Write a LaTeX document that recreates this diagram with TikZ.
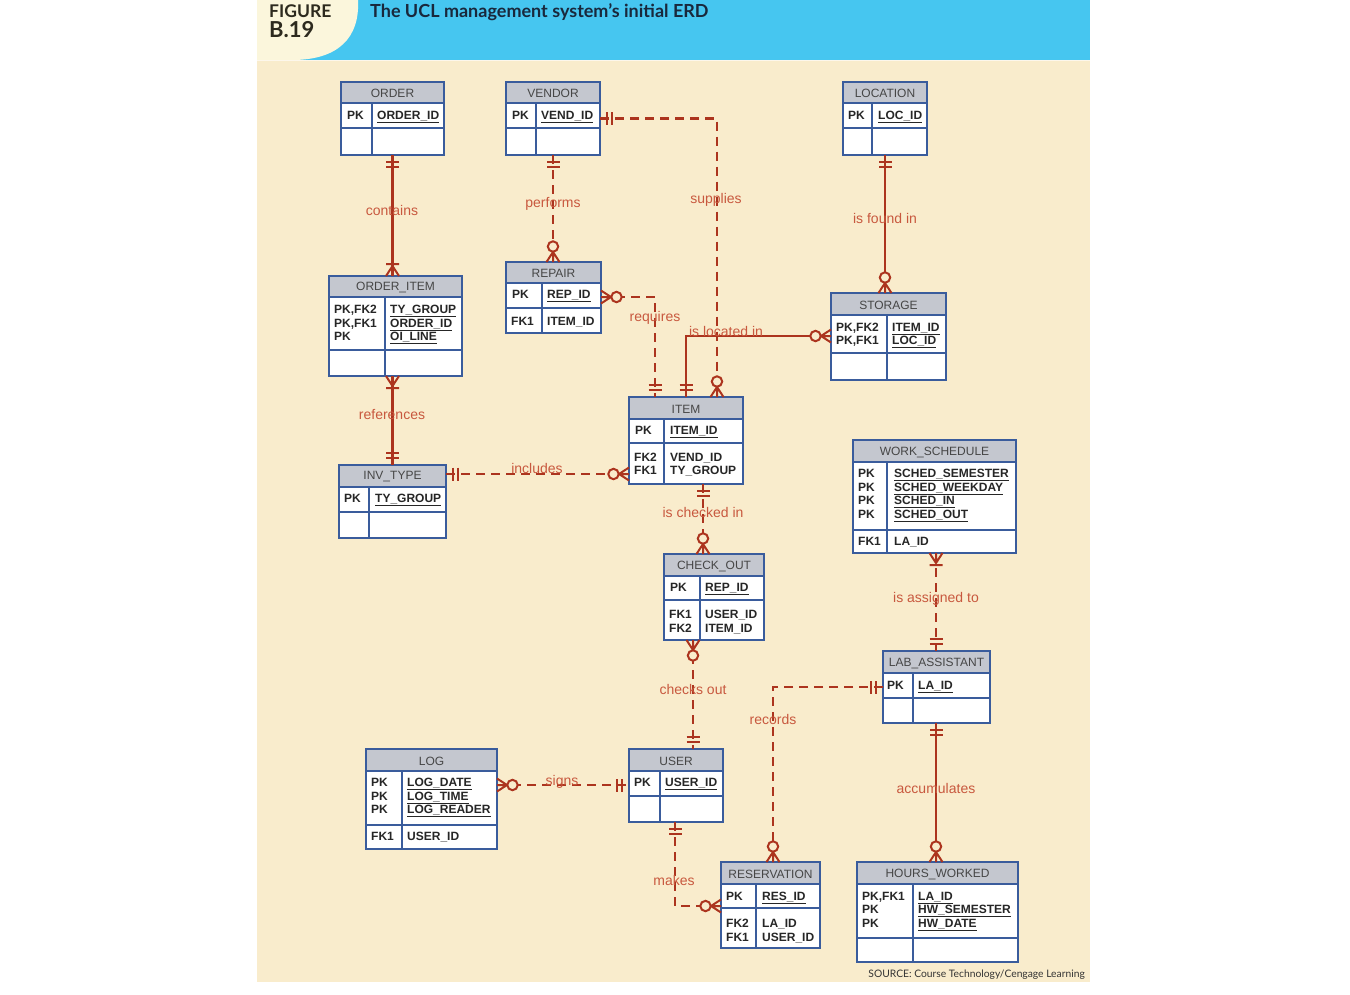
\documentclass[tikz,border=0pt]{standalone}
\usepackage{fontspec}
\setmainfont{Liberation Sans}
\newfontfamily\titlefont{Lato}
\usetikzlibrary{fit}

\definecolor{panelcream}{RGB}{249,236,204}
\definecolor{headblue}{RGB}{70,198,240}
\definecolor{figcream}{RGB}{251,246,220}
\definecolor{hdrgray}{RGB}{196,199,207}
\definecolor{entblue}{RGB}{58,92,156}
\definecolor{relred}{RGB}{172,52,30}
\definecolor{lblred}{RGB}{200,88,62}
\definecolor{hdrtxt}{RGB}{70,70,70}
\definecolor{titletxt}{RGB}{25,40,60}
\definecolor{figtxt}{RGB}{45,42,30}

\tikzset{
  entline/.style={draw=entblue, line width=1.4pt},
  hdrtext/.style={font=\fontsize{12}{14}\selectfont, text=hdrtxt, inner sep=0pt},
  celltext/.style={font=\fontsize{12}{14}\selectfont\bfseries, text=black!85, inner sep=0pt, anchor=base west},
  rel/.style={draw=relred, line width=2.5pt},
  reldash/.style={rel, dash pattern=on 9pt off 6pt},
  mk/.style={draw=relred, line width=2pt},
  lbl/.style={font=\fontsize{14}{16}\selectfont, text=lblred, inner sep=0pt, anchor=base},
  one/.pic={\draw[mk] (7,-6.5) -- (7,6.5) (12,-6.5) -- (12,6.5);},
  zmany/.pic={\draw[mk] (0,-6.5) -- (10,0) -- (0,6.5) (0,0) -- (10,0);
               \draw[mk, fill=panelcream] (15.5,0) circle (5.2);},
  omany/.pic={\draw[mk] (0,-6.5) -- (10,0) -- (0,6.5) (0,0) -- (10,0) (12,-6.5) -- (12,6.5);},
}

\newcounter{tcell}
\newcommand\ct[3]{\stepcounter{tcell}\node[celltext, name=c\arabic{tcell}] at (#1,#2) {#3};}
\newcommand\ul[1]{\underline{#1}}
\newcommand\entity[9]{%
  \fill[white] (#2,#3) rectangle (#4,#5);
  \fill[hdrgray] (#2,#3) rectangle (#4,#6);
  \draw[entline] (#2,#6) -- (#4,#6);
  \draw[entline] (#2,#8) -- (#4,#8);
  \draw[entline] (#7,#6) -- (#7,#5);
  \node[fit={(#2,#3)(#4,#5)}, inner sep=0pt, outer sep=0pt, draw=entblue, line width=2pt] (#1) {};
  \node[hdrtext, name=#1-t] at ({(#2+#4)/2},{(#3+#6)/2+1}) {#9};
}

\begin{document}
\begin{tikzpicture}[x=1pt, y=-1pt]
\useasboundingbox (0,0) rectangle (1350,994);
\fill[white] (0,0) rectangle (1350,994);

% header and panel
\fill[headblue] (257,0) rectangle (1090,60);
\fill[figcream] (257,0) -- (358,0) .. controls (360,38) and (338,60) .. (292,60) -- (257,60) -- cycle;
\fill[panelcream] (257,61) rectangle (1090,982);
\draw[white!60!panelcream, line width=1pt] (257,60.5) -- (1090,60.5);

\node[anchor=base west, inner sep=0pt, font=\titlefont\bfseries\fontsize{17.5}{20}\selectfont, text=figtxt] (figlbl) at (269,17) {FIGURE};
\node[anchor=base west, inner sep=0pt, font=\titlefont\bfseries\fontsize{22}{24}\selectfont, text=figtxt] (fignum) at (269,37) {B.19};
\node[anchor=base west, inner sep=0pt, font=\titlefont\bfseries\fontsize{18}{21}\selectfont, text=titletxt] (title) at (370,17) {The UCL management system’s initial ERD};
\node[anchor=base east, inner sep=0pt, font=\titlefont\fontsize{10.3}{12}\selectfont, text=black!80] (src) at (1085,977) {SOURCE: Course Technology/Cengage Learning};

% entities
\entity{order}{341}{82}{444}{155}{103}{372}{128}{ORDER}
\entity{vendor}{506}{82}{600}{155}{103}{536}{128}{VENDOR}
\entity{location}{843}{82}{927}{155}{103}{872}{128}{LOCATION}
\entity{repair}{506}{262}{601}{333}{283}{542}{308}{REPAIR}
\entity{oitem}{329}{276}{462}{376}{297}{385}{350}{ORDER\_ITEM}
\entity{storage}{831}{293}{946}{380}{315}{887}{353}{STORAGE}
\entity{item}{629}{397}{743}{484}{419}{664}{443}{ITEM}
\entity{invtype}{339}{465}{446}{538}{487}{369}{512}{INV\_TYPE}
\entity{ws}{853}{440}{1016}{553}{462}{887}{530}{WORK\_SCHEDULE}
\entity{checkout}{664}{554}{764}{640}{576}{700}{600}{CHECK\_OUT}
\entity{la}{883}{651}{990}{723}{673}{913}{698}{LAB\_ASSISTANT}
\entity{log}{366}{749}{497}{849}{771}{402}{825}{LOG}
\entity{user}{629}{749}{723}{822}{771}{660}{796}{USER}
\entity{res}{721}{862}{820}{948}{884}{756}{908}{RESERVATION}
\entity{hw}{857}{862}{1018}{962}{884}{913}{938}{HOURS\_WORKED}

% cell texts
\ct{347}{119}{PK} \ct{377}{119}{\ul{ORDER\_ID}}
\ct{512}{119}{PK} \ct{541}{119}{\ul{VEND\_ID}}
\ct{848}{119}{PK} \ct{878}{119}{\ul{LOC\_ID}}
\ct{512}{298}{PK} \ct{547}{298}{\ul{REP\_ID}}
\ct{511}{325}{FK1} \ct{547}{325}{ITEM\_ID}
\ct{334}{313}{PK,FK2} \ct{390}{313}{\ul{TY\_GROUP}}
\ct{334}{327}{PK,FK1} \ct{390}{327}{\ul{ORDER\_ID}}
\ct{334}{340}{PK} \ct{390}{340}{\ul{OI\_LINE}}
\ct{836}{331}{PK,FK2} \ct{892}{331}{\ul{ITEM\_ID}}
\ct{836}{344}{PK,FK1} \ct{892}{344}{\ul{LOC\_ID}}
\ct{635}{434}{PK} \ct{670}{434}{\ul{ITEM\_ID}}
\ct{634}{461}{FK2} \ct{670}{461}{VEND\_ID}
\ct{634}{474}{FK1} \ct{670}{474}{TY\_GROUP}
\ct{344}{502}{PK} \ct{375}{502}{\ul{TY\_GROUP}}
\ct{858}{477}{PK} \ct{894}{477}{\ul{SCHED\_SEMESTER}}
\ct{858}{491}{PK} \ct{894}{491}{\ul{SCHED\_WEEKDAY}}
\ct{858}{504}{PK} \ct{894}{504}{\ul{SCHED\_IN}}
\ct{858}{518}{PK} \ct{894}{518}{\ul{SCHED\_OUT}}
\ct{858}{545}{FK1} \ct{894}{545}{LA\_ID}
\ct{670}{591}{PK} \ct{705}{591}{\ul{REP\_ID}}
\ct{669}{618}{FK1} \ct{705}{618}{USER\_ID}
\ct{669}{632}{FK2} \ct{705}{632}{ITEM\_ID}
\ct{887}{689}{PK} \ct{918}{689}{\ul{LA\_ID}}
\ct{371}{786}{PK} \ct{407}{786}{\ul{LOG\_DATE}}
\ct{371}{800}{PK} \ct{407}{800}{\ul{LOG\_TIME}}
\ct{371}{813}{PK} \ct{407}{813}{\ul{LOG\_READER}}
\ct{371}{840}{FK1} \ct{407}{840}{USER\_ID}
\ct{634}{786}{PK} \ct{665}{786}{\ul{USER\_ID}}
\ct{726}{900}{PK} \ct{762}{900}{\ul{RES\_ID}}
\ct{726}{927}{FK2} \ct{762}{927}{LA\_ID}
\ct{726}{941}{FK1} \ct{762}{941}{USER\_ID}
\ct{862}{900}{PK,FK1} \ct{918}{900}{\ul{LA\_ID}}
\ct{862}{913}{PK} \ct{918}{913}{\ul{HW\_SEMESTER}}
\ct{862}{927}{PK} \ct{918}{927}{\ul{HW\_DATE}}

% helper coordinates
\coordinate (supc) at (717,118);
\coordinate (reqc) at (655,297);
\coordinate (locc) at (686,336);
\coordinate (incc) at (540,474);
\coordinate (chkc) at (703,500);
\coordinate (coc) at (693,690);
\coordinate (asgc) at (936,600);
\coordinate (recc) at (773,687);
\coordinate (sgc) at (560,785);
\coordinate (mkc) at (675,906);

% connectors
\draw[rel] (order.south) -- (order.south |- oitem.north);
\draw[reldash] (vendor.south) -- (vendor.south |- repair.north);
\draw[reldash] (vendor.east) -- (vendor.east -| supc) -- (supc |- item.north);
\draw[rel] (location.south) -- (location.south |- storage.north);
\draw[reldash] (repair.east |- reqc) -- (reqc) -- (reqc |- item.north);
\draw[rel] (locc |- item.north) -- (locc) -- (locc -| storage.west);
\draw[rel] (order.south |- oitem.south) -- (order.south |- invtype.north);
\draw[reldash] (invtype.east |- incc) -- (item.west |- incc);
\draw[reldash] (chkc |- item.south) -- (chkc |- checkout.north);
\draw[reldash] (coc |- checkout.south) -- (coc |- user.north);
\draw[reldash] (asgc |- ws.south) -- (asgc |- la.north);
\draw[reldash] (la.west |- recc) -- (recc) -- (recc |- res.north);
\draw[rel] (asgc |- la.south) -- (asgc |- hw.north);
\draw[reldash] (log.east |- sgc) -- (user.west |- sgc);
\draw[reldash] (mkc |- user.south) -- (mkc) -- (mkc -| res.west);

% markers
\pic[rotate=-90] at (order.south) {one};
\pic[rotate=90] at (order.south |- oitem.north) {omany};
\pic[rotate=-90] at (vendor.south) {one};
\pic[rotate=90] at (vendor.south |- repair.north) {zmany};
\pic at (vendor.east) {one};
\pic[rotate=90] at (supc |- item.north) {zmany};
\pic[rotate=-90] at (location.south) {one};
\pic[rotate=90] at (location.south |- storage.north) {zmany};
\pic at (repair.east |- reqc) {zmany};
\pic[rotate=90] at (reqc |- item.north) {one};
\pic[rotate=90] at (locc |- item.north) {one};
\pic[rotate=180] at (locc -| storage.west) {zmany};
\pic[rotate=-90] at (order.south |- oitem.south) {omany};
\pic[rotate=90] at (order.south |- invtype.north) {one};
\pic at (invtype.east |- incc) {one};
\pic[rotate=180] at (item.west |- incc) {zmany};
\pic[rotate=-90] at (chkc |- item.south) {one};
\pic[rotate=90] at (chkc |- checkout.north) {zmany};
\pic[rotate=-90] at (coc |- checkout.south) {zmany};
\pic[rotate=90] at (coc |- user.north) {one};
\pic[rotate=-90] at (asgc |- ws.south) {omany};
\pic[rotate=90] at (asgc |- la.north) {one};
\pic[rotate=180] at (la.west |- recc) {one};
\pic[rotate=90] at (recc |- res.north) {zmany};
\pic[rotate=-90] at (asgc |- la.south) {one};
\pic[rotate=90] at (asgc |- hw.north) {zmany};
\pic at (log.east |- sgc) {zmany};
\pic[rotate=180] at (user.west |- sgc) {one};
\pic[rotate=-90] at (mkc |- user.south) {one};
\pic[rotate=180] at (mkc -| res.west) {zmany};

% relationship labels
\node[lbl] (lcontains) at (392,215) {contains};
\node[lbl] (lperforms) at (553,207) {performs};
\node[lbl] (lsupplies) at (716,203) {supplies};
\node[lbl] (lfound) at (885,223) {is found in};
\node[lbl] (lrequires) at (655,321) {requires};
\node[lbl] (llocated) at (726,336) {is located in};
\node[lbl] (lreferences) at (392,419) {references};
\node[lbl] (lincludes) at (537,473) {includes};
\node[lbl] (lchecked) at (703,517) {is checked in};
\node[lbl] (lchecks) at (693,694) {checks out};
\node[lbl] (lassigned) at (936,602) {is assigned to};
\node[lbl] (lrecords) at (773,724) {records};
\node[lbl] (laccum) at (936,793) {accumulates};
\node[lbl] (lsigns) at (562,785) {signs};
\node[lbl] (lmakes) at (674,885) {makes};
\end{tikzpicture}
\end{document}
